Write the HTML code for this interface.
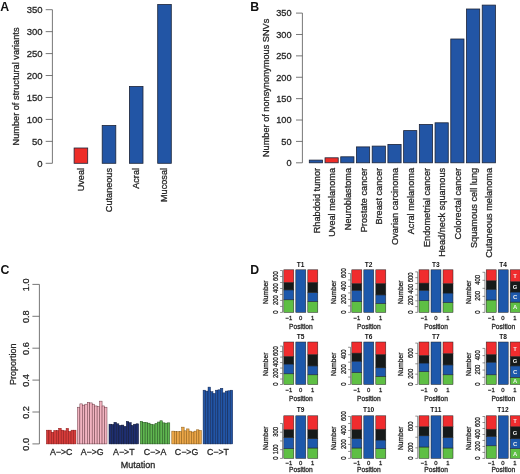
<!DOCTYPE html>
<html><head><meta charset="utf-8"><style>
html,body{margin:0;padding:0;background:#fff;}
body{width:520px;height:474px;overflow:hidden;}
svg{display:block;font-family:"Liberation Sans", sans-serif;will-change:transform;}
</style></head><body>
<svg width="520" height="474" viewBox="0 0 520 474">
<rect width="520" height="474" fill="#fff"/>
<text transform="translate(0.20,11.20)" font-size="12.3" text-anchor="start" font-weight="bold" fill="#111">A</text>
<line x1="52.40" y1="9.70" x2="52.40" y2="163.30" stroke="#555" stroke-width="0.8"/>
<line x1="45.70" y1="163.30" x2="52.40" y2="163.30" stroke="#555" stroke-width="0.8"/>
<text transform="translate(42.60,166.70)" font-size="9.5" text-anchor="end" font-weight="normal" fill="#262626" stroke="#262626" stroke-width="0.28">0</text>
<line x1="45.70" y1="141.36" x2="52.40" y2="141.36" stroke="#555" stroke-width="0.8"/>
<text transform="translate(42.60,144.76)" font-size="9.5" text-anchor="end" font-weight="normal" fill="#262626" stroke="#262626" stroke-width="0.28">50</text>
<line x1="45.70" y1="119.41" x2="52.40" y2="119.41" stroke="#555" stroke-width="0.8"/>
<text transform="translate(42.60,122.81)" font-size="9.5" text-anchor="end" font-weight="normal" fill="#262626" stroke="#262626" stroke-width="0.28">100</text>
<line x1="45.70" y1="97.47" x2="52.40" y2="97.47" stroke="#555" stroke-width="0.8"/>
<text transform="translate(42.60,100.87)" font-size="9.5" text-anchor="end" font-weight="normal" fill="#262626" stroke="#262626" stroke-width="0.28">150</text>
<line x1="45.70" y1="75.53" x2="52.40" y2="75.53" stroke="#555" stroke-width="0.8"/>
<text transform="translate(42.60,78.93)" font-size="9.5" text-anchor="end" font-weight="normal" fill="#262626" stroke="#262626" stroke-width="0.28">200</text>
<line x1="45.70" y1="53.59" x2="52.40" y2="53.59" stroke="#555" stroke-width="0.8"/>
<text transform="translate(42.60,56.99)" font-size="9.5" text-anchor="end" font-weight="normal" fill="#262626" stroke="#262626" stroke-width="0.28">250</text>
<line x1="45.70" y1="31.64" x2="52.40" y2="31.64" stroke="#555" stroke-width="0.8"/>
<text transform="translate(42.60,35.04)" font-size="9.5" text-anchor="end" font-weight="normal" fill="#262626" stroke="#262626" stroke-width="0.28">300</text>
<line x1="45.70" y1="9.70" x2="52.40" y2="9.70" stroke="#555" stroke-width="0.8"/>
<text transform="translate(42.60,13.10)" font-size="9.5" text-anchor="end" font-weight="normal" fill="#262626" stroke="#262626" stroke-width="0.28">350</text>
<text transform="translate(19.10,86.50) rotate(-90)" font-size="9.2" text-anchor="middle" font-weight="normal" fill="#262626" stroke="#262626" stroke-width="0.28">Number of structural variants</text>
<rect x="74.10" y="148.00" width="13.60" height="15.30" fill="#ee2d28" stroke="#1c2438" stroke-width="0.8"/>
<text transform="translate(83.60,168.00) rotate(-90)" font-size="9.15" text-anchor="end" font-weight="normal" fill="#262626" stroke="#262626" stroke-width="0.28">Uveal</text>
<rect x="102.20" y="125.50" width="13.60" height="37.80" fill="#2255a5" stroke="#1c2438" stroke-width="0.8"/>
<text transform="translate(111.70,168.00) rotate(-90)" font-size="9.15" text-anchor="end" font-weight="normal" fill="#262626" stroke="#262626" stroke-width="0.28">Cutaneous</text>
<rect x="129.40" y="86.50" width="13.60" height="76.80" fill="#2255a5" stroke="#1c2438" stroke-width="0.8"/>
<text transform="translate(138.90,168.00) rotate(-90)" font-size="9.15" text-anchor="end" font-weight="normal" fill="#262626" stroke="#262626" stroke-width="0.28">Acral</text>
<rect x="157.70" y="4.50" width="13.60" height="158.80" fill="#2255a5" stroke="#1c2438" stroke-width="0.8"/>
<text transform="translate(167.20,168.00) rotate(-90)" font-size="9.15" text-anchor="end" font-weight="normal" fill="#262626" stroke="#262626" stroke-width="0.28">Mucosal</text>
<text transform="translate(250.20,11.20)" font-size="12.3" text-anchor="start" font-weight="bold" fill="#111">B</text>
<line x1="302.40" y1="13.10" x2="302.40" y2="162.80" stroke="#555" stroke-width="0.8"/>
<line x1="296.00" y1="162.80" x2="302.40" y2="162.80" stroke="#555" stroke-width="0.8"/>
<text transform="translate(291.60,166.10)" font-size="9.2" text-anchor="end" font-weight="normal" fill="#262626" stroke="#262626" stroke-width="0.28">0</text>
<line x1="296.00" y1="141.41" x2="302.40" y2="141.41" stroke="#555" stroke-width="0.8"/>
<text transform="translate(291.60,144.71)" font-size="9.2" text-anchor="end" font-weight="normal" fill="#262626" stroke="#262626" stroke-width="0.28">50</text>
<line x1="296.00" y1="120.03" x2="302.40" y2="120.03" stroke="#555" stroke-width="0.8"/>
<text transform="translate(291.60,123.33)" font-size="9.2" text-anchor="end" font-weight="normal" fill="#262626" stroke="#262626" stroke-width="0.28">100</text>
<line x1="296.00" y1="98.64" x2="302.40" y2="98.64" stroke="#555" stroke-width="0.8"/>
<text transform="translate(291.60,101.94)" font-size="9.2" text-anchor="end" font-weight="normal" fill="#262626" stroke="#262626" stroke-width="0.28">150</text>
<line x1="296.00" y1="77.26" x2="302.40" y2="77.26" stroke="#555" stroke-width="0.8"/>
<text transform="translate(291.60,80.56)" font-size="9.2" text-anchor="end" font-weight="normal" fill="#262626" stroke="#262626" stroke-width="0.28">200</text>
<line x1="296.00" y1="55.87" x2="302.40" y2="55.87" stroke="#555" stroke-width="0.8"/>
<text transform="translate(291.60,59.17)" font-size="9.2" text-anchor="end" font-weight="normal" fill="#262626" stroke="#262626" stroke-width="0.28">250</text>
<line x1="296.00" y1="34.49" x2="302.40" y2="34.49" stroke="#555" stroke-width="0.8"/>
<text transform="translate(291.60,37.79)" font-size="9.2" text-anchor="end" font-weight="normal" fill="#262626" stroke="#262626" stroke-width="0.28">300</text>
<line x1="296.00" y1="13.10" x2="302.40" y2="13.10" stroke="#555" stroke-width="0.8"/>
<text transform="translate(291.60,16.40)" font-size="9.2" text-anchor="end" font-weight="normal" fill="#262626" stroke="#262626" stroke-width="0.28">350</text>
<text transform="translate(268.70,87.90) rotate(-90)" font-size="9.2" text-anchor="middle" font-weight="normal" fill="#262626" stroke="#262626" stroke-width="0.28">Number of nonsynonymous SNVs</text>
<rect x="309.30" y="160.10" width="13.20" height="2.70" fill="#2255a5" stroke="#1c2438" stroke-width="0.8"/>
<text transform="translate(319.50,167.90) rotate(-90)" font-size="9.2" text-anchor="end" font-weight="normal" fill="#262626" stroke="#262626" stroke-width="0.28">Rhabdoid tumor</text>
<rect x="325.02" y="157.80" width="13.20" height="5.00" fill="#ee2d28" stroke="#1c2438" stroke-width="0.8"/>
<text transform="translate(335.22,167.90) rotate(-90)" font-size="9.2" text-anchor="end" font-weight="normal" fill="#262626" stroke="#262626" stroke-width="0.28">Uveal melanoma</text>
<rect x="340.74" y="156.80" width="13.20" height="6.00" fill="#2255a5" stroke="#1c2438" stroke-width="0.8"/>
<text transform="translate(350.94,167.90) rotate(-90)" font-size="9.2" text-anchor="end" font-weight="normal" fill="#262626" stroke="#262626" stroke-width="0.28">Neuroblastoma</text>
<rect x="356.46" y="146.90" width="13.20" height="15.90" fill="#2255a5" stroke="#1c2438" stroke-width="0.8"/>
<text transform="translate(366.66,167.90) rotate(-90)" font-size="9.2" text-anchor="end" font-weight="normal" fill="#262626" stroke="#262626" stroke-width="0.28">Prostate cancer</text>
<rect x="372.18" y="146.10" width="13.20" height="16.70" fill="#2255a5" stroke="#1c2438" stroke-width="0.8"/>
<text transform="translate(382.38,167.90) rotate(-90)" font-size="9.2" text-anchor="end" font-weight="normal" fill="#262626" stroke="#262626" stroke-width="0.28">Breast cancer</text>
<rect x="387.90" y="144.40" width="13.20" height="18.40" fill="#2255a5" stroke="#1c2438" stroke-width="0.8"/>
<text transform="translate(398.10,167.90) rotate(-90)" font-size="9.2" text-anchor="end" font-weight="normal" fill="#262626" stroke="#262626" stroke-width="0.28">Ovarian carcinoma</text>
<rect x="403.62" y="130.60" width="13.20" height="32.20" fill="#2255a5" stroke="#1c2438" stroke-width="0.8"/>
<text transform="translate(413.82,167.90) rotate(-90)" font-size="9.2" text-anchor="end" font-weight="normal" fill="#262626" stroke="#262626" stroke-width="0.28">Acral melanoma</text>
<rect x="419.34" y="124.50" width="13.20" height="38.30" fill="#2255a5" stroke="#1c2438" stroke-width="0.8"/>
<text transform="translate(429.54,167.90) rotate(-90)" font-size="9.2" text-anchor="end" font-weight="normal" fill="#262626" stroke="#262626" stroke-width="0.28">Endometrial cancer</text>
<rect x="435.06" y="122.80" width="13.20" height="40.00" fill="#2255a5" stroke="#1c2438" stroke-width="0.8"/>
<text transform="translate(445.26,167.90) rotate(-90)" font-size="9.2" text-anchor="end" font-weight="normal" fill="#262626" stroke="#262626" stroke-width="0.28">Head/neck squamous</text>
<rect x="450.78" y="39.00" width="13.20" height="123.80" fill="#2255a5" stroke="#1c2438" stroke-width="0.8"/>
<text transform="translate(460.98,167.90) rotate(-90)" font-size="9.2" text-anchor="end" font-weight="normal" fill="#262626" stroke="#262626" stroke-width="0.28">Colorectal cancer</text>
<rect x="466.50" y="9.00" width="13.20" height="153.80" fill="#2255a5" stroke="#1c2438" stroke-width="0.8"/>
<text transform="translate(476.70,167.90) rotate(-90)" font-size="9.2" text-anchor="end" font-weight="normal" fill="#262626" stroke="#262626" stroke-width="0.28">Squamous cell lung</text>
<rect x="482.22" y="5.10" width="13.20" height="157.70" fill="#2255a5" stroke="#1c2438" stroke-width="0.8"/>
<text transform="translate(492.42,167.90) rotate(-90)" font-size="9.2" text-anchor="end" font-weight="normal" fill="#262626" stroke="#262626" stroke-width="0.28">Cutaneous melanoma</text>
<text transform="translate(0.50,274.40)" font-size="12.3" text-anchor="start" font-weight="bold" fill="#111">C</text>
<line x1="39.40" y1="284.40" x2="39.40" y2="443.90" stroke="#555" stroke-width="0.8"/>
<line x1="32.40" y1="443.90" x2="39.40" y2="443.90" stroke="#555" stroke-width="0.8"/>
<text transform="translate(28.90,444.30) rotate(-90)" font-size="9.1" text-anchor="middle" font-weight="normal" fill="#262626" stroke="#262626" stroke-width="0.28">0.0</text>
<line x1="32.40" y1="412.00" x2="39.40" y2="412.00" stroke="#555" stroke-width="0.8"/>
<text transform="translate(28.90,412.40) rotate(-90)" font-size="9.1" text-anchor="middle" font-weight="normal" fill="#262626" stroke="#262626" stroke-width="0.28">0.2</text>
<line x1="32.40" y1="380.10" x2="39.40" y2="380.10" stroke="#555" stroke-width="0.8"/>
<text transform="translate(28.90,380.50) rotate(-90)" font-size="9.1" text-anchor="middle" font-weight="normal" fill="#262626" stroke="#262626" stroke-width="0.28">0.4</text>
<line x1="32.40" y1="348.20" x2="39.40" y2="348.20" stroke="#555" stroke-width="0.8"/>
<text transform="translate(28.90,348.60) rotate(-90)" font-size="9.1" text-anchor="middle" font-weight="normal" fill="#262626" stroke="#262626" stroke-width="0.28">0.6</text>
<line x1="32.40" y1="316.30" x2="39.40" y2="316.30" stroke="#555" stroke-width="0.8"/>
<text transform="translate(28.90,316.70) rotate(-90)" font-size="9.1" text-anchor="middle" font-weight="normal" fill="#262626" stroke="#262626" stroke-width="0.28">0.8</text>
<line x1="32.40" y1="284.40" x2="39.40" y2="284.40" stroke="#555" stroke-width="0.8"/>
<text transform="translate(28.90,284.80) rotate(-90)" font-size="9.1" text-anchor="middle" font-weight="normal" fill="#262626" stroke="#262626" stroke-width="0.28">1.0</text>
<text transform="translate(15.80,364.30) rotate(-90)" font-size="9.0" text-anchor="middle" font-weight="normal" fill="#262626" stroke="#262626" stroke-width="0.28">Proportion</text>
<rect x="46.40" y="430.18" width="2.47" height="13.72" fill="#d63c3a" stroke="#8a1616" stroke-width="0.5"/>
<rect x="48.87" y="430.18" width="2.47" height="13.72" fill="#d63c3a" stroke="#8a1616" stroke-width="0.5"/>
<rect x="51.33" y="432.26" width="2.47" height="11.64" fill="#d63c3a" stroke="#8a1616" stroke-width="0.5"/>
<rect x="53.80" y="430.50" width="2.47" height="13.40" fill="#d63c3a" stroke="#8a1616" stroke-width="0.5"/>
<rect x="56.27" y="430.50" width="2.47" height="13.40" fill="#d63c3a" stroke="#8a1616" stroke-width="0.5"/>
<rect x="58.73" y="428.27" width="2.47" height="15.63" fill="#d63c3a" stroke="#8a1616" stroke-width="0.5"/>
<rect x="61.20" y="430.18" width="2.47" height="13.72" fill="#d63c3a" stroke="#8a1616" stroke-width="0.5"/>
<rect x="63.67" y="430.82" width="2.47" height="13.08" fill="#d63c3a" stroke="#8a1616" stroke-width="0.5"/>
<rect x="66.13" y="428.43" width="2.47" height="15.47" fill="#d63c3a" stroke="#8a1616" stroke-width="0.5"/>
<rect x="68.60" y="431.46" width="2.47" height="12.44" fill="#d63c3a" stroke="#8a1616" stroke-width="0.5"/>
<rect x="71.07" y="430.18" width="2.47" height="13.72" fill="#d63c3a" stroke="#8a1616" stroke-width="0.5"/>
<rect x="73.53" y="430.18" width="2.47" height="13.72" fill="#d63c3a" stroke="#8a1616" stroke-width="0.5"/>
<text transform="translate(61.20,455.30)" font-size="8.8" text-anchor="middle" font-weight="normal" fill="#262626" stroke="#262626" stroke-width="0.28">A&#8722;&gt;C</text>
<rect x="77.40" y="407.21" width="2.47" height="36.69" fill="#f2b3c0" stroke="#6a3a44" stroke-width="0.5"/>
<rect x="79.87" y="403.87" width="2.47" height="40.03" fill="#f2b3c0" stroke="#6a3a44" stroke-width="0.5"/>
<rect x="82.33" y="405.14" width="2.47" height="38.76" fill="#f2b3c0" stroke="#6a3a44" stroke-width="0.5"/>
<rect x="84.80" y="404.18" width="2.47" height="39.72" fill="#f2b3c0" stroke="#6a3a44" stroke-width="0.5"/>
<rect x="87.27" y="402.27" width="2.47" height="41.63" fill="#f2b3c0" stroke="#6a3a44" stroke-width="0.5"/>
<rect x="89.73" y="402.91" width="2.47" height="40.99" fill="#f2b3c0" stroke="#6a3a44" stroke-width="0.5"/>
<rect x="92.20" y="404.18" width="2.47" height="39.72" fill="#f2b3c0" stroke="#6a3a44" stroke-width="0.5"/>
<rect x="94.67" y="405.94" width="2.47" height="37.96" fill="#f2b3c0" stroke="#6a3a44" stroke-width="0.5"/>
<rect x="97.13" y="406.58" width="2.47" height="37.32" fill="#f2b3c0" stroke="#6a3a44" stroke-width="0.5"/>
<rect x="99.60" y="401.15" width="2.47" height="42.75" fill="#f2b3c0" stroke="#6a3a44" stroke-width="0.5"/>
<rect x="102.07" y="405.94" width="2.47" height="37.96" fill="#f2b3c0" stroke="#6a3a44" stroke-width="0.5"/>
<rect x="104.53" y="407.21" width="2.47" height="36.69" fill="#f2b3c0" stroke="#6a3a44" stroke-width="0.5"/>
<text transform="translate(92.20,455.30)" font-size="8.8" text-anchor="middle" font-weight="normal" fill="#262626" stroke="#262626" stroke-width="0.28">A&#8722;&gt;G</text>
<rect x="109.00" y="424.20" width="2.47" height="19.70" fill="#1f2f70" stroke="#0c1430" stroke-width="0.5"/>
<rect x="111.47" y="424.50" width="2.47" height="19.40" fill="#1f2f70" stroke="#0c1430" stroke-width="0.5"/>
<rect x="113.93" y="422.30" width="2.47" height="21.60" fill="#1f2f70" stroke="#0c1430" stroke-width="0.5"/>
<rect x="116.40" y="423.80" width="2.47" height="20.10" fill="#1f2f70" stroke="#0c1430" stroke-width="0.5"/>
<rect x="118.87" y="425.40" width="2.47" height="18.50" fill="#1f2f70" stroke="#0c1430" stroke-width="0.5"/>
<rect x="121.33" y="425.08" width="2.47" height="18.82" fill="#1f2f70" stroke="#0c1430" stroke-width="0.5"/>
<rect x="123.80" y="426.35" width="2.47" height="17.55" fill="#1f2f70" stroke="#0c1430" stroke-width="0.5"/>
<rect x="126.27" y="421.41" width="2.47" height="22.49" fill="#1f2f70" stroke="#0c1430" stroke-width="0.5"/>
<rect x="128.73" y="422.61" width="2.47" height="21.29" fill="#1f2f70" stroke="#0c1430" stroke-width="0.5"/>
<rect x="131.20" y="425.40" width="2.47" height="18.50" fill="#1f2f70" stroke="#0c1430" stroke-width="0.5"/>
<rect x="133.67" y="424.20" width="2.47" height="19.70" fill="#1f2f70" stroke="#0c1430" stroke-width="0.5"/>
<rect x="136.13" y="423.80" width="2.47" height="20.10" fill="#1f2f70" stroke="#0c1430" stroke-width="0.5"/>
<text transform="translate(123.80,455.30)" font-size="8.8" text-anchor="middle" font-weight="normal" fill="#262626" stroke="#262626" stroke-width="0.28">A&#8722;&gt;T</text>
<rect x="140.20" y="421.41" width="2.47" height="22.49" fill="#5fb550" stroke="#20501a" stroke-width="0.5"/>
<rect x="142.67" y="422.30" width="2.47" height="21.60" fill="#5fb550" stroke="#20501a" stroke-width="0.5"/>
<rect x="145.13" y="422.61" width="2.47" height="21.29" fill="#5fb550" stroke="#20501a" stroke-width="0.5"/>
<rect x="147.60" y="423.16" width="2.47" height="20.73" fill="#5fb550" stroke="#20501a" stroke-width="0.5"/>
<rect x="150.07" y="424.20" width="2.47" height="19.70" fill="#5fb550" stroke="#20501a" stroke-width="0.5"/>
<rect x="152.53" y="424.76" width="2.47" height="19.14" fill="#5fb550" stroke="#20501a" stroke-width="0.5"/>
<rect x="155.00" y="423.48" width="2.47" height="20.42" fill="#5fb550" stroke="#20501a" stroke-width="0.5"/>
<rect x="157.47" y="422.05" width="2.47" height="21.85" fill="#5fb550" stroke="#20501a" stroke-width="0.5"/>
<rect x="159.93" y="420.77" width="2.47" height="23.13" fill="#5fb550" stroke="#20501a" stroke-width="0.5"/>
<rect x="162.40" y="422.85" width="2.47" height="21.05" fill="#5fb550" stroke="#20501a" stroke-width="0.5"/>
<rect x="164.87" y="423.16" width="2.47" height="20.73" fill="#5fb550" stroke="#20501a" stroke-width="0.5"/>
<rect x="167.33" y="422.85" width="2.47" height="21.05" fill="#5fb550" stroke="#20501a" stroke-width="0.5"/>
<text transform="translate(155.00,455.30)" font-size="8.8" text-anchor="middle" font-weight="normal" fill="#262626" stroke="#262626" stroke-width="0.28">C&#8722;&gt;A</text>
<rect x="171.80" y="431.14" width="2.47" height="12.76" fill="#eba648" stroke="#8a5a14" stroke-width="0.5"/>
<rect x="174.27" y="431.46" width="2.47" height="12.44" fill="#eba648" stroke="#8a5a14" stroke-width="0.5"/>
<rect x="176.73" y="431.70" width="2.47" height="12.20" fill="#eba648" stroke="#8a5a14" stroke-width="0.5"/>
<rect x="179.20" y="431.46" width="2.47" height="12.44" fill="#eba648" stroke="#8a5a14" stroke-width="0.5"/>
<rect x="181.67" y="427.15" width="2.47" height="16.75" fill="#eba648" stroke="#8a5a14" stroke-width="0.5"/>
<rect x="184.13" y="430.82" width="2.47" height="13.08" fill="#eba648" stroke="#8a5a14" stroke-width="0.5"/>
<rect x="186.60" y="428.91" width="2.47" height="14.99" fill="#eba648" stroke="#8a5a14" stroke-width="0.5"/>
<rect x="189.07" y="431.14" width="2.47" height="12.76" fill="#eba648" stroke="#8a5a14" stroke-width="0.5"/>
<rect x="191.53" y="432.00" width="2.47" height="11.90" fill="#eba648" stroke="#8a5a14" stroke-width="0.5"/>
<rect x="194.00" y="431.14" width="2.47" height="12.76" fill="#eba648" stroke="#8a5a14" stroke-width="0.5"/>
<rect x="196.47" y="429.80" width="2.47" height="14.10" fill="#eba648" stroke="#8a5a14" stroke-width="0.5"/>
<rect x="198.93" y="430.50" width="2.47" height="13.40" fill="#eba648" stroke="#8a5a14" stroke-width="0.5"/>
<text transform="translate(186.60,455.30)" font-size="8.8" text-anchor="middle" font-weight="normal" fill="#262626" stroke="#262626" stroke-width="0.28">C&#8722;&gt;G</text>
<rect x="203.10" y="390.20" width="2.47" height="53.70" fill="#2255a5" stroke="#0e2350" stroke-width="0.5"/>
<rect x="205.57" y="391.11" width="2.47" height="52.79" fill="#2255a5" stroke="#0e2350" stroke-width="0.5"/>
<rect x="208.03" y="387.12" width="2.47" height="56.78" fill="#2255a5" stroke="#0e2350" stroke-width="0.5"/>
<rect x="210.50" y="391.74" width="2.47" height="52.16" fill="#2255a5" stroke="#0e2350" stroke-width="0.5"/>
<rect x="212.97" y="393.50" width="2.47" height="50.40" fill="#2255a5" stroke="#0e2350" stroke-width="0.5"/>
<rect x="215.43" y="390.20" width="2.47" height="53.70" fill="#2255a5" stroke="#0e2350" stroke-width="0.5"/>
<rect x="217.90" y="389.83" width="2.47" height="54.07" fill="#2255a5" stroke="#0e2350" stroke-width="0.5"/>
<rect x="220.37" y="388.30" width="2.47" height="55.60" fill="#2255a5" stroke="#0e2350" stroke-width="0.5"/>
<rect x="222.83" y="392.86" width="2.47" height="51.04" fill="#2255a5" stroke="#0e2350" stroke-width="0.5"/>
<rect x="225.30" y="391.11" width="2.47" height="52.79" fill="#2255a5" stroke="#0e2350" stroke-width="0.5"/>
<rect x="227.77" y="390.79" width="2.47" height="53.11" fill="#2255a5" stroke="#0e2350" stroke-width="0.5"/>
<rect x="230.23" y="390.20" width="2.47" height="53.70" fill="#2255a5" stroke="#0e2350" stroke-width="0.5"/>
<text transform="translate(217.90,455.30)" font-size="8.8" text-anchor="middle" font-weight="normal" fill="#262626" stroke="#262626" stroke-width="0.28">C&#8722;&gt;T</text>
<text transform="translate(137.90,467.80)" font-size="9.0" text-anchor="middle" font-weight="normal" fill="#262626" stroke="#262626" stroke-width="0.28">Mutation</text>
<text transform="translate(250.30,274.30)" font-size="12.3" text-anchor="start" font-weight="bold" fill="#111">D</text>
<text transform="translate(300.60,266.80)" font-size="6.6" text-anchor="middle" font-weight="bold" fill="#111">T1</text>
<line x1="282.50" y1="312.40" x2="282.50" y2="270.52" stroke="#444" stroke-width="0.6"/>
<line x1="280.10" y1="312.40" x2="282.50" y2="312.40" stroke="#444" stroke-width="0.6"/>
<line x1="280.10" y1="306.42" x2="282.50" y2="306.42" stroke="#444" stroke-width="0.6"/>
<line x1="280.10" y1="300.43" x2="282.50" y2="300.43" stroke="#444" stroke-width="0.6"/>
<line x1="280.10" y1="294.45" x2="282.50" y2="294.45" stroke="#444" stroke-width="0.6"/>
<line x1="280.10" y1="288.47" x2="282.50" y2="288.47" stroke="#444" stroke-width="0.6"/>
<line x1="280.10" y1="282.48" x2="282.50" y2="282.48" stroke="#444" stroke-width="0.6"/>
<line x1="280.10" y1="276.50" x2="282.50" y2="276.50" stroke="#444" stroke-width="0.6"/>
<line x1="280.10" y1="270.52" x2="282.50" y2="270.52" stroke="#444" stroke-width="0.6"/>
<text transform="translate(277.70,312.00) rotate(-90) scale(0.84,1)" font-size="7.0" text-anchor="middle" font-weight="normal" fill="#262626" stroke="#262626" stroke-width="0.28">0</text>
<text transform="translate(277.70,300.03) rotate(-90) scale(0.84,1)" font-size="7.0" text-anchor="middle" font-weight="normal" fill="#262626" stroke="#262626" stroke-width="0.28">200</text>
<text transform="translate(277.70,288.07) rotate(-90) scale(0.84,1)" font-size="7.0" text-anchor="middle" font-weight="normal" fill="#262626" stroke="#262626" stroke-width="0.28">400</text>
<text transform="translate(277.70,276.10) rotate(-90) scale(0.84,1)" font-size="7.0" text-anchor="middle" font-weight="normal" fill="#262626" stroke="#262626" stroke-width="0.28">600</text>
<text transform="translate(268.20,292.20) rotate(-90)" font-size="6.6" text-anchor="middle" font-weight="normal" fill="#262626" stroke="#262626" stroke-width="0.28">Number</text>
<rect x="283.80" y="299.80" width="10.00" height="12.60" fill="#5ebf44" stroke="#222" stroke-width="0.5"/>
<rect x="283.80" y="289.90" width="10.00" height="9.90" fill="#1d58ab" stroke="#222" stroke-width="0.5"/>
<rect x="283.80" y="282.40" width="10.00" height="7.50" fill="#161a1a" stroke="#222" stroke-width="0.5"/>
<rect x="283.80" y="269.80" width="10.00" height="12.60" fill="#f02c2e" stroke="#222" stroke-width="0.5"/>
<rect x="307.80" y="301.50" width="10.00" height="10.90" fill="#5ebf44" stroke="#222" stroke-width="0.5"/>
<rect x="307.80" y="292.50" width="10.00" height="9.00" fill="#1d58ab" stroke="#222" stroke-width="0.5"/>
<rect x="307.80" y="282.40" width="10.00" height="10.10" fill="#161a1a" stroke="#222" stroke-width="0.5"/>
<rect x="307.80" y="269.80" width="10.00" height="12.60" fill="#f02c2e" stroke="#222" stroke-width="0.5"/>
<rect x="295.80" y="269.80" width="10.00" height="42.60" fill="#1d58ab" stroke="#222" stroke-width="0.5"/>
<text transform="translate(288.90,320.30)" font-size="5.9" text-anchor="middle" font-weight="normal" fill="#262626" stroke="#262626" stroke-width="0.28">&#8722;1</text>
<text transform="translate(300.60,320.30)" font-size="5.9" text-anchor="middle" font-weight="normal" fill="#262626" stroke="#262626" stroke-width="0.28">0</text>
<text transform="translate(312.60,320.30)" font-size="5.9" text-anchor="middle" font-weight="normal" fill="#262626" stroke="#262626" stroke-width="0.28">1</text>
<text transform="translate(300.90,328.80)" font-size="6.7" text-anchor="middle" font-weight="normal" fill="#262626" stroke="#262626" stroke-width="0.28">Position</text>
<text transform="translate(368.60,266.80)" font-size="6.6" text-anchor="middle" font-weight="bold" fill="#111">T2</text>
<line x1="350.50" y1="312.40" x2="350.50" y2="273.50" stroke="#444" stroke-width="0.6"/>
<line x1="348.10" y1="312.40" x2="350.50" y2="312.40" stroke="#444" stroke-width="0.6"/>
<line x1="348.10" y1="305.92" x2="350.50" y2="305.92" stroke="#444" stroke-width="0.6"/>
<line x1="348.10" y1="299.43" x2="350.50" y2="299.43" stroke="#444" stroke-width="0.6"/>
<line x1="348.10" y1="292.95" x2="350.50" y2="292.95" stroke="#444" stroke-width="0.6"/>
<line x1="348.10" y1="286.46" x2="350.50" y2="286.46" stroke="#444" stroke-width="0.6"/>
<line x1="348.10" y1="279.98" x2="350.50" y2="279.98" stroke="#444" stroke-width="0.6"/>
<line x1="348.10" y1="273.50" x2="350.50" y2="273.50" stroke="#444" stroke-width="0.6"/>
<text transform="translate(345.70,312.00) rotate(-90) scale(0.84,1)" font-size="7.0" text-anchor="middle" font-weight="normal" fill="#262626" stroke="#262626" stroke-width="0.28">0</text>
<text transform="translate(345.70,299.03) rotate(-90) scale(0.84,1)" font-size="7.0" text-anchor="middle" font-weight="normal" fill="#262626" stroke="#262626" stroke-width="0.28">200</text>
<text transform="translate(345.70,286.06) rotate(-90) scale(0.84,1)" font-size="7.0" text-anchor="middle" font-weight="normal" fill="#262626" stroke="#262626" stroke-width="0.28">400</text>
<text transform="translate(345.70,273.10) rotate(-90) scale(0.84,1)" font-size="7.0" text-anchor="middle" font-weight="normal" fill="#262626" stroke="#262626" stroke-width="0.28">600</text>
<text transform="translate(336.20,292.20) rotate(-90)" font-size="6.6" text-anchor="middle" font-weight="normal" fill="#262626" stroke="#262626" stroke-width="0.28">Number</text>
<rect x="351.80" y="301.60" width="10.00" height="10.80" fill="#5ebf44" stroke="#222" stroke-width="0.5"/>
<rect x="351.80" y="290.20" width="10.00" height="11.40" fill="#1d58ab" stroke="#222" stroke-width="0.5"/>
<rect x="351.80" y="283.50" width="10.00" height="6.70" fill="#161a1a" stroke="#222" stroke-width="0.5"/>
<rect x="351.80" y="269.80" width="10.00" height="13.70" fill="#f02c2e" stroke="#222" stroke-width="0.5"/>
<rect x="375.80" y="303.50" width="10.00" height="8.90" fill="#5ebf44" stroke="#222" stroke-width="0.5"/>
<rect x="375.80" y="294.90" width="10.00" height="8.60" fill="#1d58ab" stroke="#222" stroke-width="0.5"/>
<rect x="375.80" y="283.50" width="10.00" height="11.40" fill="#161a1a" stroke="#222" stroke-width="0.5"/>
<rect x="375.80" y="269.80" width="10.00" height="13.70" fill="#f02c2e" stroke="#222" stroke-width="0.5"/>
<rect x="363.80" y="269.80" width="10.00" height="42.60" fill="#1d58ab" stroke="#222" stroke-width="0.5"/>
<text transform="translate(356.90,320.30)" font-size="5.9" text-anchor="middle" font-weight="normal" fill="#262626" stroke="#262626" stroke-width="0.28">&#8722;1</text>
<text transform="translate(368.60,320.30)" font-size="5.9" text-anchor="middle" font-weight="normal" fill="#262626" stroke="#262626" stroke-width="0.28">0</text>
<text transform="translate(380.60,320.30)" font-size="5.9" text-anchor="middle" font-weight="normal" fill="#262626" stroke="#262626" stroke-width="0.28">1</text>
<text transform="translate(368.90,328.80)" font-size="6.7" text-anchor="middle" font-weight="normal" fill="#262626" stroke="#262626" stroke-width="0.28">Position</text>
<text transform="translate(435.80,266.80)" font-size="6.6" text-anchor="middle" font-weight="bold" fill="#111">T3</text>
<line x1="417.70" y1="312.40" x2="417.70" y2="271.88" stroke="#444" stroke-width="0.6"/>
<line x1="415.30" y1="312.40" x2="417.70" y2="312.40" stroke="#444" stroke-width="0.6"/>
<line x1="415.30" y1="306.61" x2="417.70" y2="306.61" stroke="#444" stroke-width="0.6"/>
<line x1="415.30" y1="300.82" x2="417.70" y2="300.82" stroke="#444" stroke-width="0.6"/>
<line x1="415.30" y1="295.04" x2="417.70" y2="295.04" stroke="#444" stroke-width="0.6"/>
<line x1="415.30" y1="289.25" x2="417.70" y2="289.25" stroke="#444" stroke-width="0.6"/>
<line x1="415.30" y1="283.46" x2="417.70" y2="283.46" stroke="#444" stroke-width="0.6"/>
<line x1="415.30" y1="277.67" x2="417.70" y2="277.67" stroke="#444" stroke-width="0.6"/>
<line x1="415.30" y1="271.88" x2="417.70" y2="271.88" stroke="#444" stroke-width="0.6"/>
<text transform="translate(412.90,312.00) rotate(-90) scale(0.84,1)" font-size="7.0" text-anchor="middle" font-weight="normal" fill="#262626" stroke="#262626" stroke-width="0.28">0</text>
<text transform="translate(412.90,300.42) rotate(-90) scale(0.84,1)" font-size="7.0" text-anchor="middle" font-weight="normal" fill="#262626" stroke="#262626" stroke-width="0.28">200</text>
<text transform="translate(412.90,288.85) rotate(-90) scale(0.84,1)" font-size="7.0" text-anchor="middle" font-weight="normal" fill="#262626" stroke="#262626" stroke-width="0.28">400</text>
<text transform="translate(412.90,277.27) rotate(-90) scale(0.84,1)" font-size="7.0" text-anchor="middle" font-weight="normal" fill="#262626" stroke="#262626" stroke-width="0.28">600</text>
<text transform="translate(403.40,292.20) rotate(-90)" font-size="6.6" text-anchor="middle" font-weight="normal" fill="#262626" stroke="#262626" stroke-width="0.28">Number</text>
<rect x="419.00" y="300.60" width="10.00" height="11.80" fill="#5ebf44" stroke="#222" stroke-width="0.5"/>
<rect x="419.00" y="290.20" width="10.00" height="10.40" fill="#1d58ab" stroke="#222" stroke-width="0.5"/>
<rect x="419.00" y="283.10" width="10.00" height="7.10" fill="#161a1a" stroke="#222" stroke-width="0.5"/>
<rect x="419.00" y="269.80" width="10.00" height="13.30" fill="#f02c2e" stroke="#222" stroke-width="0.5"/>
<rect x="443.00" y="302.50" width="10.00" height="9.90" fill="#5ebf44" stroke="#222" stroke-width="0.5"/>
<rect x="443.00" y="293.00" width="10.00" height="9.50" fill="#1d58ab" stroke="#222" stroke-width="0.5"/>
<rect x="443.00" y="283.50" width="10.00" height="9.50" fill="#161a1a" stroke="#222" stroke-width="0.5"/>
<rect x="443.00" y="269.80" width="10.00" height="13.70" fill="#f02c2e" stroke="#222" stroke-width="0.5"/>
<rect x="431.00" y="269.80" width="10.00" height="42.60" fill="#1d58ab" stroke="#222" stroke-width="0.5"/>
<text transform="translate(424.10,320.30)" font-size="5.9" text-anchor="middle" font-weight="normal" fill="#262626" stroke="#262626" stroke-width="0.28">&#8722;1</text>
<text transform="translate(435.80,320.30)" font-size="5.9" text-anchor="middle" font-weight="normal" fill="#262626" stroke="#262626" stroke-width="0.28">0</text>
<text transform="translate(447.80,320.30)" font-size="5.9" text-anchor="middle" font-weight="normal" fill="#262626" stroke="#262626" stroke-width="0.28">1</text>
<text transform="translate(436.10,328.80)" font-size="6.7" text-anchor="middle" font-weight="normal" fill="#262626" stroke="#262626" stroke-width="0.28">Position</text>
<text transform="translate(503.00,266.80)" font-size="6.6" text-anchor="middle" font-weight="bold" fill="#111">T4</text>
<line x1="484.90" y1="312.40" x2="484.90" y2="272.29" stroke="#444" stroke-width="0.6"/>
<line x1="482.50" y1="312.40" x2="484.90" y2="312.40" stroke="#444" stroke-width="0.6"/>
<line x1="482.50" y1="304.38" x2="484.90" y2="304.38" stroke="#444" stroke-width="0.6"/>
<line x1="482.50" y1="296.35" x2="484.90" y2="296.35" stroke="#444" stroke-width="0.6"/>
<line x1="482.50" y1="288.33" x2="484.90" y2="288.33" stroke="#444" stroke-width="0.6"/>
<line x1="482.50" y1="280.31" x2="484.90" y2="280.31" stroke="#444" stroke-width="0.6"/>
<line x1="482.50" y1="272.29" x2="484.90" y2="272.29" stroke="#444" stroke-width="0.6"/>
<text transform="translate(480.10,312.00) rotate(-90) scale(0.84,1)" font-size="7.0" text-anchor="middle" font-weight="normal" fill="#262626" stroke="#262626" stroke-width="0.28">0</text>
<text transform="translate(480.10,295.95) rotate(-90) scale(0.84,1)" font-size="7.0" text-anchor="middle" font-weight="normal" fill="#262626" stroke="#262626" stroke-width="0.28">200</text>
<text transform="translate(480.10,279.91) rotate(-90) scale(0.84,1)" font-size="7.0" text-anchor="middle" font-weight="normal" fill="#262626" stroke="#262626" stroke-width="0.28">400</text>
<text transform="translate(470.60,292.20) rotate(-90)" font-size="6.6" text-anchor="middle" font-weight="normal" fill="#262626" stroke="#262626" stroke-width="0.28">Number</text>
<rect x="486.20" y="300.00" width="10.00" height="12.40" fill="#5ebf44" stroke="#222" stroke-width="0.5"/>
<rect x="486.20" y="289.20" width="10.00" height="10.80" fill="#1d58ab" stroke="#222" stroke-width="0.5"/>
<rect x="486.20" y="280.70" width="10.00" height="8.50" fill="#161a1a" stroke="#222" stroke-width="0.5"/>
<rect x="486.20" y="269.80" width="10.00" height="10.90" fill="#f02c2e" stroke="#222" stroke-width="0.5"/>
<rect x="510.20" y="302.10" width="10.00" height="10.30" fill="#5ebf44" stroke="#222" stroke-width="0.5"/>
<rect x="510.20" y="292.00" width="10.00" height="10.10" fill="#1d58ab" stroke="#222" stroke-width="0.5"/>
<rect x="510.20" y="281.60" width="10.00" height="10.40" fill="#161a1a" stroke="#222" stroke-width="0.5"/>
<rect x="510.20" y="269.80" width="10.00" height="11.80" fill="#f02c2e" stroke="#222" stroke-width="0.5"/>
<text transform="translate(515.10,277.70)" font-size="5.9" text-anchor="middle" font-weight="bold" fill="#f0f0f0">T</text>
<text transform="translate(515.10,288.80)" font-size="5.9" text-anchor="middle" font-weight="bold" fill="#f0f0f0">G</text>
<text transform="translate(515.10,299.05)" font-size="5.9" text-anchor="middle" font-weight="bold" fill="#f0f0f0">C</text>
<text transform="translate(515.10,309.25)" font-size="5.9" text-anchor="middle" font-weight="bold" fill="#f0f0f0">A</text>
<rect x="498.20" y="269.80" width="10.00" height="42.60" fill="#1d58ab" stroke="#222" stroke-width="0.5"/>
<text transform="translate(491.30,320.30)" font-size="5.9" text-anchor="middle" font-weight="normal" fill="#262626" stroke="#262626" stroke-width="0.28">&#8722;1</text>
<text transform="translate(503.00,320.30)" font-size="5.9" text-anchor="middle" font-weight="normal" fill="#262626" stroke="#262626" stroke-width="0.28">0</text>
<text transform="translate(515.00,320.30)" font-size="5.9" text-anchor="middle" font-weight="normal" fill="#262626" stroke="#262626" stroke-width="0.28">1</text>
<text transform="translate(503.30,328.80)" font-size="6.7" text-anchor="middle" font-weight="normal" fill="#262626" stroke="#262626" stroke-width="0.28">Position</text>
<text transform="translate(300.60,339.00)" font-size="6.6" text-anchor="middle" font-weight="bold" fill="#111">T5</text>
<line x1="282.50" y1="384.50" x2="282.50" y2="346.11" stroke="#444" stroke-width="0.6"/>
<line x1="280.10" y1="384.50" x2="282.50" y2="384.50" stroke="#444" stroke-width="0.6"/>
<line x1="280.10" y1="379.02" x2="282.50" y2="379.02" stroke="#444" stroke-width="0.6"/>
<line x1="280.10" y1="373.53" x2="282.50" y2="373.53" stroke="#444" stroke-width="0.6"/>
<line x1="280.10" y1="368.05" x2="282.50" y2="368.05" stroke="#444" stroke-width="0.6"/>
<line x1="280.10" y1="362.56" x2="282.50" y2="362.56" stroke="#444" stroke-width="0.6"/>
<line x1="280.10" y1="357.08" x2="282.50" y2="357.08" stroke="#444" stroke-width="0.6"/>
<line x1="280.10" y1="351.60" x2="282.50" y2="351.60" stroke="#444" stroke-width="0.6"/>
<line x1="280.10" y1="346.11" x2="282.50" y2="346.11" stroke="#444" stroke-width="0.6"/>
<text transform="translate(277.70,384.10) rotate(-90) scale(0.84,1)" font-size="7.0" text-anchor="middle" font-weight="normal" fill="#262626" stroke="#262626" stroke-width="0.28">0</text>
<text transform="translate(277.70,373.13) rotate(-90) scale(0.84,1)" font-size="7.0" text-anchor="middle" font-weight="normal" fill="#262626" stroke="#262626" stroke-width="0.28">200</text>
<text transform="translate(277.70,362.16) rotate(-90) scale(0.84,1)" font-size="7.0" text-anchor="middle" font-weight="normal" fill="#262626" stroke="#262626" stroke-width="0.28">400</text>
<text transform="translate(277.70,351.20) rotate(-90) scale(0.84,1)" font-size="7.0" text-anchor="middle" font-weight="normal" fill="#262626" stroke="#262626" stroke-width="0.28">600</text>
<text transform="translate(268.20,364.35) rotate(-90)" font-size="6.6" text-anchor="middle" font-weight="normal" fill="#262626" stroke="#262626" stroke-width="0.28">Number</text>
<rect x="283.80" y="373.80" width="10.00" height="10.70" fill="#5ebf44" stroke="#222" stroke-width="0.5"/>
<rect x="283.80" y="364.00" width="10.00" height="9.80" fill="#1d58ab" stroke="#222" stroke-width="0.5"/>
<rect x="283.80" y="356.40" width="10.00" height="7.60" fill="#161a1a" stroke="#222" stroke-width="0.5"/>
<rect x="283.80" y="342.00" width="10.00" height="14.40" fill="#f02c2e" stroke="#222" stroke-width="0.5"/>
<rect x="307.80" y="374.80" width="10.00" height="9.70" fill="#5ebf44" stroke="#222" stroke-width="0.5"/>
<rect x="307.80" y="365.90" width="10.00" height="8.90" fill="#1d58ab" stroke="#222" stroke-width="0.5"/>
<rect x="307.80" y="354.50" width="10.00" height="11.40" fill="#161a1a" stroke="#222" stroke-width="0.5"/>
<rect x="307.80" y="342.00" width="10.00" height="12.50" fill="#f02c2e" stroke="#222" stroke-width="0.5"/>
<rect x="295.80" y="342.00" width="10.00" height="42.50" fill="#1d58ab" stroke="#222" stroke-width="0.5"/>
<text transform="translate(288.90,392.40)" font-size="5.9" text-anchor="middle" font-weight="normal" fill="#262626" stroke="#262626" stroke-width="0.28">&#8722;1</text>
<text transform="translate(300.60,392.40)" font-size="5.9" text-anchor="middle" font-weight="normal" fill="#262626" stroke="#262626" stroke-width="0.28">0</text>
<text transform="translate(312.60,392.40)" font-size="5.9" text-anchor="middle" font-weight="normal" fill="#262626" stroke="#262626" stroke-width="0.28">1</text>
<text transform="translate(300.90,400.90)" font-size="6.7" text-anchor="middle" font-weight="normal" fill="#262626" stroke="#262626" stroke-width="0.28">Position</text>
<text transform="translate(368.60,339.00)" font-size="6.6" text-anchor="middle" font-weight="bold" fill="#111">T6</text>
<line x1="350.50" y1="384.50" x2="350.50" y2="347.28" stroke="#444" stroke-width="0.6"/>
<line x1="348.10" y1="384.50" x2="350.50" y2="384.50" stroke="#444" stroke-width="0.6"/>
<line x1="348.10" y1="377.06" x2="350.50" y2="377.06" stroke="#444" stroke-width="0.6"/>
<line x1="348.10" y1="369.61" x2="350.50" y2="369.61" stroke="#444" stroke-width="0.6"/>
<line x1="348.10" y1="362.17" x2="350.50" y2="362.17" stroke="#444" stroke-width="0.6"/>
<line x1="348.10" y1="354.73" x2="350.50" y2="354.73" stroke="#444" stroke-width="0.6"/>
<line x1="348.10" y1="347.28" x2="350.50" y2="347.28" stroke="#444" stroke-width="0.6"/>
<text transform="translate(345.70,384.10) rotate(-90) scale(0.84,1)" font-size="7.0" text-anchor="middle" font-weight="normal" fill="#262626" stroke="#262626" stroke-width="0.28">0</text>
<text transform="translate(345.70,369.21) rotate(-90) scale(0.84,1)" font-size="7.0" text-anchor="middle" font-weight="normal" fill="#262626" stroke="#262626" stroke-width="0.28">200</text>
<text transform="translate(345.70,354.33) rotate(-90) scale(0.84,1)" font-size="7.0" text-anchor="middle" font-weight="normal" fill="#262626" stroke="#262626" stroke-width="0.28">400</text>
<text transform="translate(336.20,364.35) rotate(-90)" font-size="6.6" text-anchor="middle" font-weight="normal" fill="#262626" stroke="#262626" stroke-width="0.28">Number</text>
<rect x="351.80" y="372.50" width="10.00" height="12.00" fill="#5ebf44" stroke="#222" stroke-width="0.5"/>
<rect x="351.80" y="361.10" width="10.00" height="11.40" fill="#1d58ab" stroke="#222" stroke-width="0.5"/>
<rect x="351.80" y="353.10" width="10.00" height="8.00" fill="#161a1a" stroke="#222" stroke-width="0.5"/>
<rect x="351.80" y="342.00" width="10.00" height="11.10" fill="#f02c2e" stroke="#222" stroke-width="0.5"/>
<rect x="375.80" y="376.30" width="10.00" height="8.20" fill="#5ebf44" stroke="#222" stroke-width="0.5"/>
<rect x="375.80" y="367.80" width="10.00" height="8.50" fill="#1d58ab" stroke="#222" stroke-width="0.5"/>
<rect x="375.80" y="354.50" width="10.00" height="13.30" fill="#161a1a" stroke="#222" stroke-width="0.5"/>
<rect x="375.80" y="342.00" width="10.00" height="12.50" fill="#f02c2e" stroke="#222" stroke-width="0.5"/>
<rect x="363.80" y="342.00" width="10.00" height="42.50" fill="#1d58ab" stroke="#222" stroke-width="0.5"/>
<text transform="translate(356.90,392.40)" font-size="5.9" text-anchor="middle" font-weight="normal" fill="#262626" stroke="#262626" stroke-width="0.28">&#8722;1</text>
<text transform="translate(368.60,392.40)" font-size="5.9" text-anchor="middle" font-weight="normal" fill="#262626" stroke="#262626" stroke-width="0.28">0</text>
<text transform="translate(380.60,392.40)" font-size="5.9" text-anchor="middle" font-weight="normal" fill="#262626" stroke="#262626" stroke-width="0.28">1</text>
<text transform="translate(368.90,400.90)" font-size="6.7" text-anchor="middle" font-weight="normal" fill="#262626" stroke="#262626" stroke-width="0.28">Position</text>
<text transform="translate(435.80,339.00)" font-size="6.6" text-anchor="middle" font-weight="bold" fill="#111">T7</text>
<line x1="417.70" y1="384.50" x2="417.70" y2="343.09" stroke="#444" stroke-width="0.6"/>
<line x1="415.30" y1="384.50" x2="417.70" y2="384.50" stroke="#444" stroke-width="0.6"/>
<line x1="415.30" y1="374.15" x2="417.70" y2="374.15" stroke="#444" stroke-width="0.6"/>
<line x1="415.30" y1="363.79" x2="417.70" y2="363.79" stroke="#444" stroke-width="0.6"/>
<line x1="415.30" y1="353.44" x2="417.70" y2="353.44" stroke="#444" stroke-width="0.6"/>
<line x1="415.30" y1="343.09" x2="417.70" y2="343.09" stroke="#444" stroke-width="0.6"/>
<text transform="translate(412.90,384.10) rotate(-90) scale(0.84,1)" font-size="7.0" text-anchor="middle" font-weight="normal" fill="#262626" stroke="#262626" stroke-width="0.28">0</text>
<text transform="translate(412.90,373.75) rotate(-90) scale(0.84,1)" font-size="7.0" text-anchor="middle" font-weight="normal" fill="#262626" stroke="#262626" stroke-width="0.28">200</text>
<text transform="translate(412.90,353.04) rotate(-90) scale(0.84,1)" font-size="7.0" text-anchor="middle" font-weight="normal" fill="#262626" stroke="#262626" stroke-width="0.28">600</text>
<text transform="translate(403.40,364.35) rotate(-90)" font-size="6.6" text-anchor="middle" font-weight="normal" fill="#262626" stroke="#262626" stroke-width="0.28">Number</text>
<rect x="419.00" y="371.60" width="10.00" height="12.90" fill="#5ebf44" stroke="#222" stroke-width="0.5"/>
<rect x="419.00" y="363.00" width="10.00" height="8.60" fill="#1d58ab" stroke="#222" stroke-width="0.5"/>
<rect x="419.00" y="355.40" width="10.00" height="7.60" fill="#161a1a" stroke="#222" stroke-width="0.5"/>
<rect x="419.00" y="342.00" width="10.00" height="13.40" fill="#f02c2e" stroke="#222" stroke-width="0.5"/>
<rect x="443.00" y="374.80" width="10.00" height="9.70" fill="#5ebf44" stroke="#222" stroke-width="0.5"/>
<rect x="443.00" y="364.90" width="10.00" height="9.90" fill="#1d58ab" stroke="#222" stroke-width="0.5"/>
<rect x="443.00" y="353.50" width="10.00" height="11.40" fill="#161a1a" stroke="#222" stroke-width="0.5"/>
<rect x="443.00" y="342.00" width="10.00" height="11.50" fill="#f02c2e" stroke="#222" stroke-width="0.5"/>
<rect x="431.00" y="342.00" width="10.00" height="42.50" fill="#1d58ab" stroke="#222" stroke-width="0.5"/>
<text transform="translate(424.10,392.40)" font-size="5.9" text-anchor="middle" font-weight="normal" fill="#262626" stroke="#262626" stroke-width="0.28">&#8722;1</text>
<text transform="translate(435.80,392.40)" font-size="5.9" text-anchor="middle" font-weight="normal" fill="#262626" stroke="#262626" stroke-width="0.28">0</text>
<text transform="translate(447.80,392.40)" font-size="5.9" text-anchor="middle" font-weight="normal" fill="#262626" stroke="#262626" stroke-width="0.28">1</text>
<text transform="translate(436.10,400.90)" font-size="6.7" text-anchor="middle" font-weight="normal" fill="#262626" stroke="#262626" stroke-width="0.28">Position</text>
<text transform="translate(503.00,339.00)" font-size="6.6" text-anchor="middle" font-weight="bold" fill="#111">T8</text>
<line x1="484.90" y1="384.50" x2="484.90" y2="348.42" stroke="#444" stroke-width="0.6"/>
<line x1="482.50" y1="384.50" x2="484.90" y2="384.50" stroke="#444" stroke-width="0.6"/>
<line x1="482.50" y1="377.28" x2="484.90" y2="377.28" stroke="#444" stroke-width="0.6"/>
<line x1="482.50" y1="370.07" x2="484.90" y2="370.07" stroke="#444" stroke-width="0.6"/>
<line x1="482.50" y1="362.85" x2="484.90" y2="362.85" stroke="#444" stroke-width="0.6"/>
<line x1="482.50" y1="355.64" x2="484.90" y2="355.64" stroke="#444" stroke-width="0.6"/>
<line x1="482.50" y1="348.42" x2="484.90" y2="348.42" stroke="#444" stroke-width="0.6"/>
<text transform="translate(480.10,384.10) rotate(-90) scale(0.84,1)" font-size="7.0" text-anchor="middle" font-weight="normal" fill="#262626" stroke="#262626" stroke-width="0.28">0</text>
<text transform="translate(480.10,369.67) rotate(-90) scale(0.84,1)" font-size="7.0" text-anchor="middle" font-weight="normal" fill="#262626" stroke="#262626" stroke-width="0.28">200</text>
<text transform="translate(480.10,355.24) rotate(-90) scale(0.84,1)" font-size="7.0" text-anchor="middle" font-weight="normal" fill="#262626" stroke="#262626" stroke-width="0.28">400</text>
<text transform="translate(470.60,364.35) rotate(-90)" font-size="6.6" text-anchor="middle" font-weight="normal" fill="#262626" stroke="#262626" stroke-width="0.28">Number</text>
<rect x="486.20" y="374.80" width="10.00" height="9.70" fill="#5ebf44" stroke="#222" stroke-width="0.5"/>
<rect x="486.20" y="362.10" width="10.00" height="12.70" fill="#1d58ab" stroke="#222" stroke-width="0.5"/>
<rect x="486.20" y="354.50" width="10.00" height="7.60" fill="#161a1a" stroke="#222" stroke-width="0.5"/>
<rect x="486.20" y="342.00" width="10.00" height="12.50" fill="#f02c2e" stroke="#222" stroke-width="0.5"/>
<rect x="510.20" y="377.30" width="10.00" height="7.20" fill="#5ebf44" stroke="#222" stroke-width="0.5"/>
<rect x="510.20" y="365.90" width="10.00" height="11.40" fill="#1d58ab" stroke="#222" stroke-width="0.5"/>
<rect x="510.20" y="356.40" width="10.00" height="9.50" fill="#161a1a" stroke="#222" stroke-width="0.5"/>
<rect x="510.20" y="342.00" width="10.00" height="14.40" fill="#f02c2e" stroke="#222" stroke-width="0.5"/>
<text transform="translate(515.10,351.20)" font-size="5.9" text-anchor="middle" font-weight="bold" fill="#f0f0f0">T</text>
<text transform="translate(515.10,363.15)" font-size="5.9" text-anchor="middle" font-weight="bold" fill="#f0f0f0">G</text>
<text transform="translate(515.10,373.60)" font-size="5.9" text-anchor="middle" font-weight="bold" fill="#f0f0f0">C</text>
<text transform="translate(515.10,382.90)" font-size="5.9" text-anchor="middle" font-weight="bold" fill="#f0f0f0">A</text>
<rect x="498.20" y="342.00" width="10.00" height="42.50" fill="#1d58ab" stroke="#222" stroke-width="0.5"/>
<text transform="translate(491.30,392.40)" font-size="5.9" text-anchor="middle" font-weight="normal" fill="#262626" stroke="#262626" stroke-width="0.28">&#8722;1</text>
<text transform="translate(503.00,392.40)" font-size="5.9" text-anchor="middle" font-weight="normal" fill="#262626" stroke="#262626" stroke-width="0.28">0</text>
<text transform="translate(515.00,392.40)" font-size="5.9" text-anchor="middle" font-weight="normal" fill="#262626" stroke="#262626" stroke-width="0.28">1</text>
<text transform="translate(503.30,400.90)" font-size="6.7" text-anchor="middle" font-weight="normal" fill="#262626" stroke="#262626" stroke-width="0.28">Position</text>
<text transform="translate(300.60,411.90)" font-size="6.6" text-anchor="middle" font-weight="bold" fill="#111">T9</text>
<line x1="282.50" y1="458.40" x2="282.50" y2="423.48" stroke="#444" stroke-width="0.6"/>
<line x1="280.10" y1="458.40" x2="282.50" y2="458.40" stroke="#444" stroke-width="0.6"/>
<line x1="280.10" y1="449.67" x2="282.50" y2="449.67" stroke="#444" stroke-width="0.6"/>
<line x1="280.10" y1="440.94" x2="282.50" y2="440.94" stroke="#444" stroke-width="0.6"/>
<line x1="280.10" y1="432.21" x2="282.50" y2="432.21" stroke="#444" stroke-width="0.6"/>
<line x1="280.10" y1="423.48" x2="282.50" y2="423.48" stroke="#444" stroke-width="0.6"/>
<text transform="translate(277.70,458.00) rotate(-90) scale(0.84,1)" font-size="7.0" text-anchor="middle" font-weight="normal" fill="#262626" stroke="#262626" stroke-width="0.28">0</text>
<text transform="translate(277.70,449.27) rotate(-90) scale(0.84,1)" font-size="7.0" text-anchor="middle" font-weight="normal" fill="#262626" stroke="#262626" stroke-width="0.28">100</text>
<text transform="translate(277.70,431.81) rotate(-90) scale(0.84,1)" font-size="7.0" text-anchor="middle" font-weight="normal" fill="#262626" stroke="#262626" stroke-width="0.28">300</text>
<text transform="translate(268.20,438.20) rotate(-90)" font-size="6.6" text-anchor="middle" font-weight="normal" fill="#262626" stroke="#262626" stroke-width="0.28">Number</text>
<rect x="283.80" y="448.70" width="10.00" height="9.70" fill="#5ebf44" stroke="#222" stroke-width="0.5"/>
<rect x="283.80" y="437.50" width="10.00" height="11.20" fill="#1d58ab" stroke="#222" stroke-width="0.5"/>
<rect x="283.80" y="429.70" width="10.00" height="7.80" fill="#161a1a" stroke="#222" stroke-width="0.5"/>
<rect x="283.80" y="415.80" width="10.00" height="13.90" fill="#f02c2e" stroke="#222" stroke-width="0.5"/>
<rect x="307.80" y="448.00" width="10.00" height="10.40" fill="#5ebf44" stroke="#222" stroke-width="0.5"/>
<rect x="307.80" y="438.70" width="10.00" height="9.30" fill="#1d58ab" stroke="#222" stroke-width="0.5"/>
<rect x="307.80" y="429.70" width="10.00" height="9.00" fill="#161a1a" stroke="#222" stroke-width="0.5"/>
<rect x="307.80" y="415.80" width="10.00" height="13.90" fill="#f02c2e" stroke="#222" stroke-width="0.5"/>
<rect x="295.80" y="415.80" width="10.00" height="42.60" fill="#1d58ab" stroke="#222" stroke-width="0.5"/>
<text transform="translate(288.90,465.30)" font-size="5.9" text-anchor="middle" font-weight="normal" fill="#262626" stroke="#262626" stroke-width="0.28">&#8722;1</text>
<text transform="translate(300.60,465.30)" font-size="5.9" text-anchor="middle" font-weight="normal" fill="#262626" stroke="#262626" stroke-width="0.28">0</text>
<text transform="translate(312.60,465.30)" font-size="5.9" text-anchor="middle" font-weight="normal" fill="#262626" stroke="#262626" stroke-width="0.28">1</text>
<text transform="translate(300.90,472.30)" font-size="6.7" text-anchor="middle" font-weight="normal" fill="#262626" stroke="#262626" stroke-width="0.28">Position</text>
<text transform="translate(368.60,411.90)" font-size="6.6" text-anchor="middle" font-weight="bold" fill="#111">T10</text>
<line x1="350.50" y1="458.40" x2="350.50" y2="416.50" stroke="#444" stroke-width="0.6"/>
<line x1="348.10" y1="458.40" x2="350.50" y2="458.40" stroke="#444" stroke-width="0.6"/>
<line x1="348.10" y1="451.42" x2="350.50" y2="451.42" stroke="#444" stroke-width="0.6"/>
<line x1="348.10" y1="444.43" x2="350.50" y2="444.43" stroke="#444" stroke-width="0.6"/>
<line x1="348.10" y1="437.45" x2="350.50" y2="437.45" stroke="#444" stroke-width="0.6"/>
<line x1="348.10" y1="430.47" x2="350.50" y2="430.47" stroke="#444" stroke-width="0.6"/>
<line x1="348.10" y1="423.48" x2="350.50" y2="423.48" stroke="#444" stroke-width="0.6"/>
<line x1="348.10" y1="416.50" x2="350.50" y2="416.50" stroke="#444" stroke-width="0.6"/>
<text transform="translate(345.70,458.00) rotate(-90) scale(0.84,1)" font-size="7.0" text-anchor="middle" font-weight="normal" fill="#262626" stroke="#262626" stroke-width="0.28">0</text>
<text transform="translate(345.70,444.03) rotate(-90) scale(0.84,1)" font-size="7.0" text-anchor="middle" font-weight="normal" fill="#262626" stroke="#262626" stroke-width="0.28">200</text>
<text transform="translate(345.70,430.07) rotate(-90) scale(0.84,1)" font-size="7.0" text-anchor="middle" font-weight="normal" fill="#262626" stroke="#262626" stroke-width="0.28">400</text>
<text transform="translate(345.70,416.10) rotate(-90) scale(0.84,1)" font-size="7.0" text-anchor="middle" font-weight="normal" fill="#262626" stroke="#262626" stroke-width="0.28">600</text>
<text transform="translate(336.20,438.20) rotate(-90)" font-size="6.6" text-anchor="middle" font-weight="normal" fill="#262626" stroke="#262626" stroke-width="0.28">Number</text>
<rect x="351.80" y="448.00" width="10.00" height="10.40" fill="#5ebf44" stroke="#222" stroke-width="0.5"/>
<rect x="351.80" y="438.70" width="10.00" height="9.30" fill="#1d58ab" stroke="#222" stroke-width="0.5"/>
<rect x="351.80" y="429.70" width="10.00" height="9.00" fill="#161a1a" stroke="#222" stroke-width="0.5"/>
<rect x="351.80" y="415.80" width="10.00" height="13.90" fill="#f02c2e" stroke="#222" stroke-width="0.5"/>
<rect x="375.80" y="448.70" width="10.00" height="9.70" fill="#5ebf44" stroke="#222" stroke-width="0.5"/>
<rect x="375.80" y="440.00" width="10.00" height="8.70" fill="#1d58ab" stroke="#222" stroke-width="0.5"/>
<rect x="375.80" y="429.20" width="10.00" height="10.80" fill="#161a1a" stroke="#222" stroke-width="0.5"/>
<rect x="375.80" y="415.80" width="10.00" height="13.40" fill="#f02c2e" stroke="#222" stroke-width="0.5"/>
<rect x="363.80" y="415.80" width="10.00" height="42.60" fill="#1d58ab" stroke="#222" stroke-width="0.5"/>
<text transform="translate(356.90,465.30)" font-size="5.9" text-anchor="middle" font-weight="normal" fill="#262626" stroke="#262626" stroke-width="0.28">&#8722;1</text>
<text transform="translate(368.60,465.30)" font-size="5.9" text-anchor="middle" font-weight="normal" fill="#262626" stroke="#262626" stroke-width="0.28">0</text>
<text transform="translate(380.60,465.30)" font-size="5.9" text-anchor="middle" font-weight="normal" fill="#262626" stroke="#262626" stroke-width="0.28">1</text>
<text transform="translate(368.90,472.30)" font-size="6.7" text-anchor="middle" font-weight="normal" fill="#262626" stroke="#262626" stroke-width="0.28">Position</text>
<text transform="translate(435.80,411.90)" font-size="6.6" text-anchor="middle" font-weight="bold" fill="#111">T11</text>
<line x1="417.70" y1="458.40" x2="417.70" y2="416.12" stroke="#444" stroke-width="0.6"/>
<line x1="415.30" y1="458.40" x2="417.70" y2="458.40" stroke="#444" stroke-width="0.6"/>
<line x1="415.30" y1="447.83" x2="417.70" y2="447.83" stroke="#444" stroke-width="0.6"/>
<line x1="415.30" y1="437.26" x2="417.70" y2="437.26" stroke="#444" stroke-width="0.6"/>
<line x1="415.30" y1="426.69" x2="417.70" y2="426.69" stroke="#444" stroke-width="0.6"/>
<line x1="415.30" y1="416.12" x2="417.70" y2="416.12" stroke="#444" stroke-width="0.6"/>
<text transform="translate(412.90,458.00) rotate(-90) scale(0.84,1)" font-size="7.0" text-anchor="middle" font-weight="normal" fill="#262626" stroke="#262626" stroke-width="0.28">0</text>
<text transform="translate(412.90,447.43) rotate(-90) scale(0.84,1)" font-size="7.0" text-anchor="middle" font-weight="normal" fill="#262626" stroke="#262626" stroke-width="0.28">200</text>
<text transform="translate(412.90,426.29) rotate(-90) scale(0.84,1)" font-size="7.0" text-anchor="middle" font-weight="normal" fill="#262626" stroke="#262626" stroke-width="0.28">600</text>
<text transform="translate(403.40,438.20) rotate(-90)" font-size="6.6" text-anchor="middle" font-weight="normal" fill="#262626" stroke="#262626" stroke-width="0.28">Number</text>
<rect x="419.00" y="447.00" width="10.00" height="11.40" fill="#5ebf44" stroke="#222" stroke-width="0.5"/>
<rect x="419.00" y="435.80" width="10.00" height="11.20" fill="#1d58ab" stroke="#222" stroke-width="0.5"/>
<rect x="419.00" y="426.70" width="10.00" height="9.10" fill="#161a1a" stroke="#222" stroke-width="0.5"/>
<rect x="419.00" y="415.80" width="10.00" height="10.90" fill="#f02c2e" stroke="#222" stroke-width="0.5"/>
<rect x="443.00" y="448.00" width="10.00" height="10.40" fill="#5ebf44" stroke="#222" stroke-width="0.5"/>
<rect x="443.00" y="437.50" width="10.00" height="10.50" fill="#1d58ab" stroke="#222" stroke-width="0.5"/>
<rect x="443.00" y="426.70" width="10.00" height="10.80" fill="#161a1a" stroke="#222" stroke-width="0.5"/>
<rect x="443.00" y="415.80" width="10.00" height="10.90" fill="#f02c2e" stroke="#222" stroke-width="0.5"/>
<rect x="431.00" y="415.80" width="10.00" height="42.60" fill="#1d58ab" stroke="#222" stroke-width="0.5"/>
<text transform="translate(424.10,465.30)" font-size="5.9" text-anchor="middle" font-weight="normal" fill="#262626" stroke="#262626" stroke-width="0.28">&#8722;1</text>
<text transform="translate(435.80,465.30)" font-size="5.9" text-anchor="middle" font-weight="normal" fill="#262626" stroke="#262626" stroke-width="0.28">0</text>
<text transform="translate(447.80,465.30)" font-size="5.9" text-anchor="middle" font-weight="normal" fill="#262626" stroke="#262626" stroke-width="0.28">1</text>
<text transform="translate(436.10,472.30)" font-size="6.7" text-anchor="middle" font-weight="normal" fill="#262626" stroke="#262626" stroke-width="0.28">Position</text>
<text transform="translate(503.00,411.90)" font-size="6.6" text-anchor="middle" font-weight="bold" fill="#111">T12</text>
<line x1="484.90" y1="458.40" x2="484.90" y2="416.52" stroke="#444" stroke-width="0.6"/>
<line x1="482.50" y1="458.40" x2="484.90" y2="458.40" stroke="#444" stroke-width="0.6"/>
<line x1="482.50" y1="452.42" x2="484.90" y2="452.42" stroke="#444" stroke-width="0.6"/>
<line x1="482.50" y1="446.43" x2="484.90" y2="446.43" stroke="#444" stroke-width="0.6"/>
<line x1="482.50" y1="440.45" x2="484.90" y2="440.45" stroke="#444" stroke-width="0.6"/>
<line x1="482.50" y1="434.47" x2="484.90" y2="434.47" stroke="#444" stroke-width="0.6"/>
<line x1="482.50" y1="428.48" x2="484.90" y2="428.48" stroke="#444" stroke-width="0.6"/>
<line x1="482.50" y1="422.50" x2="484.90" y2="422.50" stroke="#444" stroke-width="0.6"/>
<line x1="482.50" y1="416.52" x2="484.90" y2="416.52" stroke="#444" stroke-width="0.6"/>
<text transform="translate(480.10,458.00) rotate(-90) scale(0.84,1)" font-size="7.0" text-anchor="middle" font-weight="normal" fill="#262626" stroke="#262626" stroke-width="0.28">0</text>
<text transform="translate(480.10,446.03) rotate(-90) scale(0.84,1)" font-size="7.0" text-anchor="middle" font-weight="normal" fill="#262626" stroke="#262626" stroke-width="0.28">200</text>
<text transform="translate(480.10,434.07) rotate(-90) scale(0.84,1)" font-size="7.0" text-anchor="middle" font-weight="normal" fill="#262626" stroke="#262626" stroke-width="0.28">400</text>
<text transform="translate(480.10,422.10) rotate(-90) scale(0.84,1)" font-size="7.0" text-anchor="middle" font-weight="normal" fill="#262626" stroke="#262626" stroke-width="0.28">600</text>
<text transform="translate(470.60,438.20) rotate(-90)" font-size="6.6" text-anchor="middle" font-weight="normal" fill="#262626" stroke="#262626" stroke-width="0.28">Number</text>
<rect x="486.20" y="445.80" width="10.00" height="12.60" fill="#5ebf44" stroke="#222" stroke-width="0.5"/>
<rect x="486.20" y="436.30" width="10.00" height="9.50" fill="#1d58ab" stroke="#222" stroke-width="0.5"/>
<rect x="486.20" y="429.20" width="10.00" height="7.10" fill="#161a1a" stroke="#222" stroke-width="0.5"/>
<rect x="486.20" y="415.80" width="10.00" height="13.40" fill="#f02c2e" stroke="#222" stroke-width="0.5"/>
<rect x="510.20" y="448.70" width="10.00" height="9.70" fill="#5ebf44" stroke="#222" stroke-width="0.5"/>
<rect x="510.20" y="438.70" width="10.00" height="10.00" fill="#1d58ab" stroke="#222" stroke-width="0.5"/>
<rect x="510.20" y="426.70" width="10.00" height="12.00" fill="#161a1a" stroke="#222" stroke-width="0.5"/>
<rect x="510.20" y="415.80" width="10.00" height="10.90" fill="#f02c2e" stroke="#222" stroke-width="0.5"/>
<text transform="translate(515.10,423.25)" font-size="5.9" text-anchor="middle" font-weight="bold" fill="#f0f0f0">T</text>
<text transform="translate(515.10,434.70)" font-size="5.9" text-anchor="middle" font-weight="bold" fill="#f0f0f0">G</text>
<text transform="translate(515.10,445.70)" font-size="5.9" text-anchor="middle" font-weight="bold" fill="#f0f0f0">C</text>
<text transform="translate(515.10,455.55)" font-size="5.9" text-anchor="middle" font-weight="bold" fill="#f0f0f0">A</text>
<rect x="498.20" y="415.80" width="10.00" height="42.60" fill="#1d58ab" stroke="#222" stroke-width="0.5"/>
<text transform="translate(491.30,465.30)" font-size="5.9" text-anchor="middle" font-weight="normal" fill="#262626" stroke="#262626" stroke-width="0.28">&#8722;1</text>
<text transform="translate(503.00,465.30)" font-size="5.9" text-anchor="middle" font-weight="normal" fill="#262626" stroke="#262626" stroke-width="0.28">0</text>
<text transform="translate(515.00,465.30)" font-size="5.9" text-anchor="middle" font-weight="normal" fill="#262626" stroke="#262626" stroke-width="0.28">1</text>
<text transform="translate(503.30,472.30)" font-size="6.7" text-anchor="middle" font-weight="normal" fill="#262626" stroke="#262626" stroke-width="0.28">Position</text>
</svg>
</body></html>
